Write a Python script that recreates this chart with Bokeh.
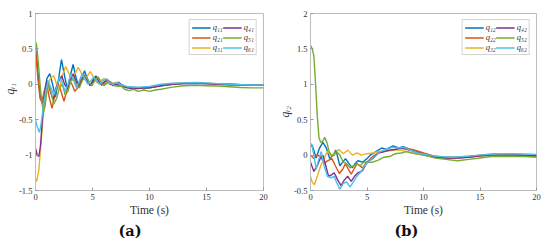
from bokeh.plotting import figure
from bokeh.models import Legend, LegendItem, Title, FixedTicker
from bokeh.layouts import row
from bokeh.embed import file_html
from bokeh.resources import INLINE

# ---------------- data: panel (a) ----------------
a_q1_t = [0, 0.15, 0.3, 0.45, 0.6, 0.8, 1.0, 1.25, 1.5, 1.75, 2.0, 2.28, 2.55, 2.8, 3.05, 3.3, 3.55, 3.8, 4.05, 4.3, 4.55, 4.8, 5.05, 5.3, 5.55, 5.8, 6.05, 6.3, 6.55, 6.8, 7.05, 7.3, 7.6, 8, 8.5, 9, 9.5, 10, 11, 12, 13, 14, 15, 16, 17, 18, 19, 20]
a_q1_v = [0.52, 0.3, 0.0, -0.2, -0.27, -0.1, 0.08, 0.15, 0.0, -0.18, 0.05, 0.35, 0.12, -0.08, 0.12, 0.28, 0.1, -0.05, 0.08, 0.19, 0.08, -0.02, 0.06, 0.12, 0.05, -0.01, 0.04, 0.07, 0.02, -0.02, 0.01, 0.03, -0.01, -0.04, -0.06, -0.05, -0.06, -0.05, -0.02, 0.0, 0.01, 0.015, 0.01, 0.0, -0.01, -0.01, -0.01, -0.01]

a_q2_t = [0, 0.2, 0.4, 0.55, 0.8, 1.0, 1.2, 1.45, 1.7, 1.95, 2.2, 2.5, 2.75, 3.0, 3.2, 3.45, 3.7, 4.0, 4.3, 4.6, 4.9, 5.2, 5.5, 5.8, 6.1, 6.4, 6.7, 7.0, 7.3, 7.6, 8, 8.5, 9, 9.5, 10, 11, 12, 13, 14, 15, 16, 17, 18, 19, 20]
a_q2_v = [0.5, 0.1, -0.2, -0.25, -0.08, 0.0, -0.18, -0.34, -0.15, 0.02, -0.08, -0.24, -0.08, 0.05, 0.0, -0.1, -0.05, 0.07, 0.12, 0.03, -0.02, 0.08, 0.1, 0.02, 0.0, 0.05, 0.02, 0.0, 0.02, -0.02, -0.04, -0.05, -0.05, -0.05, -0.04, -0.01, 0.01, 0.015, 0.02, 0.01, 0.005, 0.0, -0.005, -0.01, -0.01]

a_q3_t = [0, 0.1, 0.3, 0.5, 0.7, 0.9, 1.1, 1.35, 1.6, 1.85, 2.1, 2.35, 2.65, 2.95, 3.2, 3.45, 3.75, 4.05, 4.3, 4.55, 4.8, 5.1, 5.4, 5.7, 6.0, 6.3, 6.6, 6.9, 7.2, 7.6, 8, 8.5, 9, 9.5, 10, 11, 12, 13, 14, 15, 16, 17, 18, 19, 20]
a_q3_v = [-1.33, -1.37, -1.2, -0.8, -0.4, -0.15, 0.0, 0.1, 0.12, 0.0, -0.06, 0.12, 0.25, 0.15, 0.05, 0.14, 0.24, 0.15, 0.07, 0.12, 0.18, 0.1, 0.02, 0.05, 0.08, 0.02, -0.01, 0.02, 0.01, -0.02, -0.04, -0.05, -0.05, -0.05, -0.04, -0.01, 0.01, 0.02, 0.02, 0.015, 0.01, 0.0, -0.005, -0.01, -0.01]

a_q4_t = [0, 0.15, 0.3, 0.45, 0.6, 0.75, 0.9, 1.05, 1.3, 1.55, 1.8, 2.05, 2.3, 2.55, 2.8, 3.05, 3.3, 3.55, 3.8, 4.05, 4.3, 4.55, 4.8, 5.05, 5.3, 5.55, 5.8, 6.05, 6.3, 6.6, 7.0, 7.5, 8, 8.5, 9, 9.5, 10, 11, 12, 13, 14, 15, 16, 17, 18, 19, 20]
a_q4_v = [-0.9, -1.0, -1.02, -0.85, -0.5, -0.25, -0.02, 0.05, -0.1, -0.22, -0.05, 0.05, 0.12, 0.0, -0.06, 0.05, 0.15, 0.05, -0.05, 0.05, 0.13, 0.05, -0.02, 0.05, 0.11, 0.04, -0.01, 0.03, 0.06, 0.0, 0.0, -0.02, -0.05, -0.06, -0.06, -0.05, -0.05, -0.02, 0.0, 0.01, 0.015, 0.01, 0.005, 0.0, -0.005, -0.01, -0.01]

a_q5_t = [0, 0.1, 0.25, 0.4, 0.55, 0.7, 0.85, 1.0, 1.15, 1.35, 1.6, 1.85, 2.1, 2.35, 2.6, 2.85, 3.1, 3.35, 3.6, 3.85, 4.1, 4.4, 4.7, 4.95, 5.2, 5.45, 5.75, 6.0, 6.3, 6.6, 6.9, 7.2, 7.5, 7.8, 8.2, 8.6, 9.0, 9.5, 10, 10.5, 11, 12, 13, 14, 15, 16, 17, 18, 19, 20]
a_q5_v = [0.6, 0.55, 0.3, 0.0, -0.25, -0.4, -0.3, -0.1, 0.0, -0.1, -0.28, -0.2, -0.05, 0.0, -0.15, -0.1, 0.05, 0.08, -0.02, -0.05, 0.05, 0.12, 0.03, -0.02, 0.05, 0.1, 0.02, -0.02, 0.02, 0.03, -0.02, -0.03, -0.02, -0.07, -0.09, -0.07, -0.1, -0.08, -0.1, -0.08, -0.07, -0.04, -0.02, -0.015, -0.02, -0.025, -0.035, -0.045, -0.05, -0.05]

a_q6_t = [0, 0.15, 0.35, 0.5, 0.7, 0.9, 1.1, 1.35, 1.6, 1.85, 2.1, 2.35, 2.6, 2.85, 3.1, 3.35, 3.6, 3.85, 4.1, 4.35, 4.6, 4.85, 5.1, 5.35, 5.6, 5.9, 6.2, 6.5, 6.8, 7.1, 7.4, 8, 9, 10, 11, 12, 13, 14, 15, 16, 17, 18, 19, 20]
a_q6_v = [-0.5, -0.6, -0.68, -0.55, -0.3, -0.1, 0.05, -0.05, -0.15, -0.05, 0.1, 0.02, -0.1, 0.0, 0.15, 0.05, -0.05, 0.05, 0.15, 0.07, 0.0, 0.05, 0.1, 0.05, 0.0, 0.05, 0.08, 0.02, 0.0, 0.03, 0.0, -0.03, -0.04, -0.03, 0.0, 0.015, 0.02, 0.025, 0.02, 0.01, 0.0, -0.005, -0.01, -0.01]

# ---------------- data: panel (b) ----------------
b_q1_t = [0, 0.15, 0.5, 0.8, 1.1, 1.4, 1.7, 2.0, 2.25, 2.6, 2.85, 3.1, 3.4, 3.7, 3.95, 4.2, 4.6, 5.0, 5.3, 5.8, 6.3, 6.7, 7.3, 7.8, 8.2, 8.8, 9.5, 10.5, 11.5, 12.5, 14, 15, 16, 17, 18, 19, 20]
b_q1_v = [0.12, 0.14, -0.04, 0.1, 0.18, 0.1, -0.05, 0.0, 0.07, -0.15, -0.1, -0.05, -0.12, -0.18, -0.12, -0.08, -0.1, -0.05, 0.0, 0.05, 0.1, 0.08, 0.13, 0.1, 0.12, 0.08, 0.05, 0.0, -0.03, -0.03, -0.02, 0.0, 0.01, 0.015, 0.01, 0.0, -0.01]

b_q2_t = [0, 0.3, 0.6, 0.9, 1.2, 1.5, 1.9, 2.2, 2.55, 2.85, 3.1, 3.35, 3.6, 3.85, 4.1, 4.35, 4.6, 5.0, 5.3, 5.7, 6.0, 6.5, 7.0, 7.5, 8.3, 9, 10, 11, 12, 13, 14.5, 16, 17, 18, 19, 20]
b_q2_v = [0.0, -0.05, 0.0, -0.02, -0.12, -0.08, -0.05, -0.15, -0.26, -0.2, -0.12, -0.2, -0.27, -0.2, -0.12, -0.15, -0.18, -0.1, -0.05, 0.0, 0.03, 0.05, 0.07, 0.08, 0.1, 0.08, 0.03, -0.02, -0.04, -0.04, -0.02, 0.0, 0.0, 0.0, -0.005, -0.01]

b_q3_t = [0, 0.15, 0.35, 0.6, 0.9, 1.2, 1.5, 1.8, 2.1, 2.5, 2.9, 3.3, 3.7, 4.1, 4.5, 5.0, 5.5, 6.0, 6.5, 7.0, 7.5, 8.0, 8.5, 9, 10, 11, 12, 13, 14, 15, 16, 17, 18, 19, 20]
b_q3_v = [-0.3, -0.38, -0.42, -0.3, -0.15, -0.05, 0.05, 0.0, 0.02, 0.08, 0.02, 0.07, 0.0, 0.03, 0.0, 0.02, 0.03, 0.05, 0.05, 0.06, 0.07, 0.07, 0.05, 0.03, 0.0, -0.02, -0.03, -0.03, -0.02, 0.0, 0.0, 0.0, 0.0, -0.005, -0.01]

b_q4_t = [0, 0.3, 0.6, 0.85, 1.1, 1.35, 1.6, 1.85, 2.1, 2.4, 2.7, 3.0, 3.3, 3.6, 3.9, 4.2, 4.6, 5.0, 5.5, 6.0, 6.5, 7.0, 7.5, 8, 8.5, 9, 10, 11, 12, 13, 14, 15, 16, 17, 18, 19, 20]
b_q4_v = [-0.1, -0.23, -0.15, -0.05, 0.0, -0.15, -0.3, -0.28, -0.25, -0.35, -0.43, -0.35, -0.3, -0.37, -0.3, -0.25, -0.22, -0.1, -0.05, 0.03, 0.05, 0.07, 0.08, 0.1, 0.08, 0.06, 0.01, -0.03, -0.04, -0.04, -0.03, -0.01, 0.0, 0.0, 0.0, -0.005, -0.01]

b_q5_t = [0, 0.15, 0.3, 0.45, 0.6, 0.75, 0.9, 1.1, 1.25, 1.45, 1.65, 1.9, 2.1, 2.3, 2.6, 2.9, 3.2, 3.5, 3.8, 4.1, 4.4, 4.7, 5.0, 5.5, 6.0, 6.5, 7.0, 7.5, 8, 8.5, 9, 10, 11, 12, 13, 14, 15, 16, 17, 18, 19, 20]
b_q5_v = [1.55, 1.5, 1.4, 1.0, 0.55, 0.25, 0.18, 0.2, 0.25, 0.18, 0.05, -0.02, 0.0, 0.05, 0.0, -0.1, -0.12, -0.18, -0.15, -0.12, -0.15, -0.1, -0.1, -0.1, -0.07, -0.03, -0.02, 0.02, 0.03, 0.05, 0.03, 0.0, -0.04, -0.06, -0.08, -0.06, -0.04, -0.02, -0.02, -0.02, -0.02, -0.03]

b_q6_t = [0, 0.1, 0.3, 0.5, 0.75, 0.95, 1.2, 1.5, 1.8, 2.1, 2.35, 2.6, 2.9, 3.2, 3.5, 3.8, 4.1, 4.4, 4.8, 5.2, 5.7, 6.2, 6.7, 7.2, 7.7, 8.2, 8.7, 9.5, 10.5, 11.5, 12.5, 13.5, 15, 16, 17, 18, 19, 20]
b_q6_v = [0.15, 0.16, 0.0, -0.2, -0.05, 0.05, -0.15, -0.3, -0.32, -0.3, -0.4, -0.48, -0.4, -0.38, -0.45, -0.38, -0.3, -0.25, -0.15, -0.08, -0.02, 0.05, 0.08, 0.11, 0.1, 0.11, 0.08, 0.03, 0.0, -0.02, -0.03, -0.02, 0.0, 0.015, 0.02, 0.02, 0.015, 0.01]

# ---------------- labels / ticks ----------------
x_ticks = [0, 5, 10, 15, 20]
a_y_ticks = [-1.5, -1, -0.5, 0, 0.5, 1]
a_y_tick_labels = ["-1.5", "-1", "-0.5", "0", "0.5", "1"]
b_y_ticks = [-0.5, 0, 0.5, 1, 1.5, 2]
b_y_tick_labels = ["-0.5", "0", "0.5", "1", "1.5", "2"]
a_legend_labels = ["q₁₁", "q₂₁", "q₃₁", "q₄₁", "q₅₁", "q₆₁"]
b_legend_labels = ["q₁₂", "q₂₂", "q₃₂", "q₄₂", "q₅₂", "q₆₂"]
a_ylabel = "qᵢ₁"
b_ylabel = "qᵢ₂"
x_label = "Time (s)"
colors = ["#0072BD", "#D95319", "#EDB120", "#7E2F8E", "#77AC30", "#4DBEEE"]

FONT = "Liberation Serif"
AX = "#bdbdbd"
TXT = "#333333"


def panel(series, y_range, y_ticks, y_tick_labels, legend_labels, ylabel,
          ylabel_offset, caption, caption_offset, width, border_left,
          border_right):
    p = figure(width=width, height=240, x_range=(0, 20), y_range=y_range,
               output_backend="svg", toolbar_location=None,
               min_border_left=border_left, min_border_right=border_right,
               min_border_top=13, min_border_bottom=50)
    p.grid.visible = False
    p.outline_line_color = AX
    p.outline_line_width = 1
    p.background_fill_color = "white"
    p.border_fill_color = "white"

    p.xaxis.ticker = FixedTicker(ticks=x_ticks)
    p.yaxis.ticker = FixedTicker(ticks=y_ticks)
    p.yaxis.major_label_overrides = {t: s for t, s in zip(y_ticks, y_tick_labels)}
    p.xaxis.major_label_overrides = {t: str(t) for t in x_ticks}
    for ax in (p.xaxis, p.yaxis):
        ax.axis_line_color = AX
        ax.major_tick_line_color = "#999999"
        ax.major_tick_in = 3
        ax.major_tick_out = 0
        ax.minor_tick_line_color = None
        ax.major_label_text_font = FONT
        ax.major_label_text_font_size = "8.5px"
        ax.major_label_text_color = TXT
        ax.major_label_standoff = 3
    p.xaxis.axis_label = x_label
    p.xaxis.axis_label_text_font = FONT
    p.xaxis.axis_label_text_font_size = "11.5px"
    p.xaxis.axis_label_text_font_style = "normal"
    p.xaxis.axis_label_text_color = TXT
    p.xaxis.axis_label_standoff = 1

    items = []
    for (t, v), c, lab in zip(series, colors, legend_labels):
        r = p.line(t, v, line_color=c, line_width=1.4)
        items.append(LegendItem(label=lab, renderers=[r]))

    leg = Legend(items=items, location="top_right", orientation="vertical",
                 nrows=3, margin=6, padding=2, spacing=0,
                 glyph_width=19, glyph_height=9, label_height=9,
                 label_width=10, label_standoff=2, label_text_font=FONT,
                 label_text_font_size="8.5px", label_text_font_style="italic",
                 label_text_color=TXT, border_line_color="#aaaaaa",
                 border_line_width=1, background_fill_color="white",
                 background_fill_alpha=1.0)
    p.add_layout(leg)

    p.add_layout(Title(text=ylabel, align="left", offset=ylabel_offset,
                       standoff=2, text_font=FONT, text_font_size="11.5px",
                       text_font_style="italic", text_color=TXT), "left")
    p.add_layout(Title(text=caption, align="left", offset=caption_offset,
                       standoff=2, text_font="DejaVu Serif",
                       text_font_size="14.5px", text_font_style="bold",
                       text_color="#111111"), "below")
    return p


a_series = [(a_q1_t, a_q1_v), (a_q2_t, a_q2_v), (a_q3_t, a_q3_v),
            (a_q4_t, a_q4_v), (a_q5_t, a_q5_v), (a_q6_t, a_q6_v)]
b_series = [(b_q1_t, b_q1_v), (b_q2_t, b_q2_v), (b_q3_t, b_q3_v),
            (b_q4_t, b_q4_v), (b_q5_t, b_q5_v), (b_q6_t, b_q6_v)]

p1 = panel(a_series, (-1.5, 1), a_y_ticks, a_y_tick_labels, a_legend_labels,
           a_ylabel, 96, "(a)", 83, 275, 35, 12)
p2 = panel(b_series, (-0.5, 2), b_y_ticks, b_y_tick_labels, b_legend_labels,
           b_ylabel, 73, "(b)", 84, 267, 34, 6)

layout = row(p1, p2)
open("out.html", "w").write(file_html(layout, INLINE))
